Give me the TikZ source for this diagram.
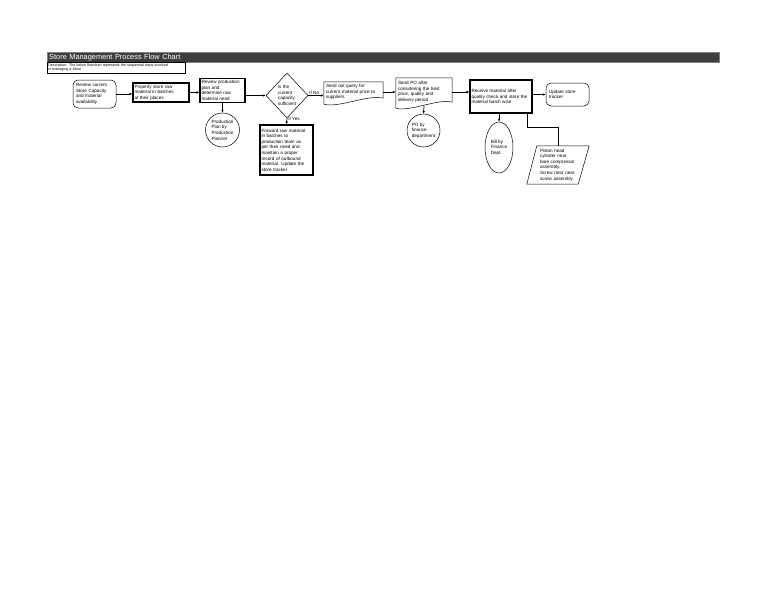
\documentclass[tikz,border=0pt]{standalone}
\usepackage{fontspec}
\setmainfont{Liberation Sans}
\usetikzlibrary{shapes.geometric,arrows.meta}
\definecolor{titlegray}{HTML}{3E3E3E}

\tikzset{
	small/.style={font=\fontsize{4.6}{5.6}\selectfont},
	procbox/.style={small, draw, line width=1.1pt, align=left, inner sep=1.5pt},
	softbox/.style={small, draw, line width=0.5pt, rounded corners=5pt, align=left, inner sep=3pt},
	record/.style={small, draw, line width=0.5pt, circle, align=left, inner sep=0.5pt},
	docbox/.style={small, align=left, inner sep=2pt},
	flow/.style={-{Latex[length=3pt,width=2.6pt]}, line width=0.7pt},
}

\begin{document}
\begin{tikzpicture}[x=1pt, y=-1pt]
	\useasboundingbox (0,0) rectangle (768,594);
	\node [fill=titlegray, draw=gray, line width=0.4pt, anchor=north west, minimum width=672, minimum height=10, inner sep=1pt, text width=668, align=left, text=white, font=\fontsize{7.4}{8}\selectfont] (title) at (47,52) {Store Management Process Flow Chart};
	\node [draw, line width=0.7pt, anchor=north west, minimum height=11, inner sep=1pt, text width=136, align=left, font=\fontsize{3.6}{4.1}\selectfont] (descr) at (47,62) {Description: The below flowchart represents the sequential steps involved\\in managing a Store};

	\node [softbox, text width=37, minimum height=28] (review) at (94.5,94) {Review current\\Store Capacity\\and material\\availability};
	\node [procbox, text width=53, minimum height=19] (store) at (161,92.5) {Properly store raw\\material in batches\\at their places};
	\node [procbox, text width=42, minimum height=21] (plan) at (222.5,90.5) {Review production\\plan and\\determine raw\\material need};
	\node [record, minimum size=34] (planner) at (222.5,130) {Production\\Plan by\\Production\\Planner};
	\node [small, draw, line width=0.5pt, diamond, align=left, inner sep=0, minimum width=42, minimum height=45] (decision) at (287,95.5) {Is the\\current\\capacity\\sufficient};
	\node [procbox, text width=50, minimum height=50] (forward) at (286.5,150) {Forward raw material\\in batches to\\production team as\\per their need and\\maintain a proper\\record of outbound\\material. Update the\\store tracker};
	\node [docbox, text width=55, minimum height=20] (query) at (353.5,92) {Send out query for\\current material price to\\suppliers.};
	\node [docbox, text width=52, minimum height=28] (po) at (424,92) {Send PO after\\considering the best\\price, quality and\\delivery period};
	\node [record, minimum size=33] (pofin) at (423.5,130.5) {PO by\\finance\\department};
	\node [procbox, text width=59, minimum height=33] (receive) at (501,96.5) {Receive material after\\quality check and store the\\material batch wise};
	\node [softbox, text width=37, minimum height=23] (tracker) at (567.5,94.5) {Update store\\tracker};
	\node [small, draw, line width=0.5pt, ellipse, align=left, inner sep=0, minimum width=28, minimum height=51] (bill) at (499,147.5) {Bill by\\Finance\\Dept.};
	\node [docbox, text width=40, minimum height=38] (parts) at (560,165) {Piston head\\cylinder near\\bare compressor\\assembly.\\Screw rotor near\\screw assembly};

	\draw [line width=0.5pt] (query.north west) -- (query.north east) -- ([yshift=4pt]query.south east)
		.. controls ([xshift=14pt,yshift=8pt]query.south) and ([xshift=-14pt,yshift=-6pt]query.south) .. ([yshift=-2pt]query.south west) -- cycle;
	\draw [line width=0.5pt] (po.north west) -- (po.north east) -- ([yshift=4pt]po.south east)
		.. controls ([xshift=14pt,yshift=8pt]po.south) and ([xshift=-14pt,yshift=-6pt]po.south) .. ([yshift=-2pt]po.south west) -- cycle;
	\draw [line width=0.5pt] ([xshift=-1pt]parts.north west) -- ([xshift=7pt]parts.north east) -- ([xshift=-4pt]parts.south east) -- ([xshift=-11pt]parts.south west) -- cycle;

	\draw [flow] (review.east) -- (review.east -| store.west);
	\draw [flow] (store.east) -- (store.east -| plan.west);
	\draw [flow] (plan.east |- decision.west) -- (decision.west);
	\draw [flow] (plan.south) -- (planner.north);
	\draw [flow] (decision.east) -- (decision.east -| query.west) node [small, pos=0, anchor=south west, inner sep=0.8pt] {If No};
	\draw [flow] (decision.south) -- (forward.north) node [small, pos=0.05, anchor=west, inner sep=1pt] {If Yes};
	\draw [flow] (query.east) -- (po.west);
	\draw [flow] (po.south) -- (pofin.north);
	\draw [flow] (po.east) -- (po.east -| receive.west);
	\draw [flow] (receive.east |- tracker.west) -- (tracker.west);
	\draw [flow] (receive.south -| bill.north) -- (bill.north);
	\draw [line width=0.9pt] ([xshift=26pt]receive.south) -- ++(0,14) -| ([xshift=-2pt]parts.north);
\end{tikzpicture}
\end{document}
